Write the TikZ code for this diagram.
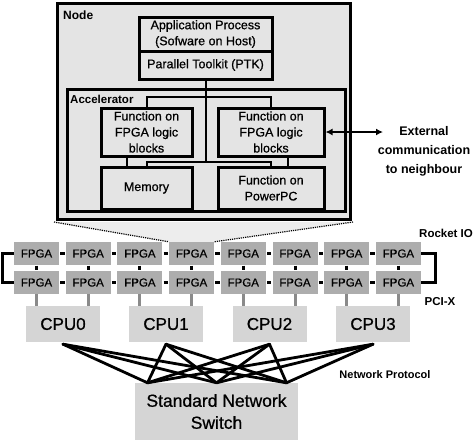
\documentclass[tikz,border=0pt]{standalone}
\usepackage{fontspec}
\setmainfont{Liberation Sans}
\newfontfamily\medfont{Liberation Sans}[FakeBold=0.7]
\usetikzlibrary{arrows.meta,calc}
\pgfdeclarelayer{background}
\pgfsetlayers{background,main}
\definecolor{nodegray}{HTML}{E4E4E4}
\definecolor{fpgagray}{HTML}{ADADAD}
\definecolor{cpugray}{HTML}{D5D5D5}
\definecolor{linkgray}{HTML}{8A8A8A}
\definecolor{funnelgray}{HTML}{EDEDED}
\begin{document}
\begin{tikzpicture}[x=1pt,y=-1pt,
  container/.style={draw=black,line width=3pt,fill=nodegray,inner sep=0pt},
  box/.style={draw=black,line width=3pt,fill=nodegray,inner sep=0pt,align=center,
    font=\medfont\fontsize{12.5}{16}\selectfont},
  fpga/.style={fill=fpgagray,minimum width=45pt,minimum height=23pt,inner sep=0pt,
    font=\medfont\fontsize{11.5}{13}\selectfont},
  cpu/.style={fill=cpugray,minimum width=74pt,minimum height=36pt,inner sep=0pt,
    font=\medfont\fontsize{17}{20}\selectfont},
  lbl/.style={inner sep=0pt,font=\bfseries\fontsize{11.5}{13}\selectfont},
  bus/.style={line width=2pt},
  rlink/.style={line width=3pt,shorten <=1pt,shorten >=1pt},
  glink/.style={line width=3pt,draw=linkgray},
  net/.style={line width=2.8pt,line cap=round},
  ext/.style={line width=2pt,{Latex[length=7pt,width=7pt]}-{Latex[length=7pt,width=7pt]}}
]
\useasboundingbox (0,0) rectangle (474,440);

% Node container
\node[container,minimum width=293pt,minimum height=216pt] (nodebox) at (203.5,111) {};
\node[lbl,anchor=west,font=\bfseries\fontsize{12}{14}\selectfont] (nodelbl) at (63,15) {Node};

% Application process / PTK
\node[box,minimum width=133pt,minimum height=34pt] (app) at (205.5,34)
  {Application Process\\(Sofware on Host)};
\node[box,minimum width=133pt,minimum height=28pt] (ptk) at (205.5,65)
  {Parallel Toolkit (PTK)};

% Accelerator
\node[container,minimum width=278pt,minimum height=122pt] (acc) at (206,150) {};
\node[lbl,anchor=west] (acclbl) at (70,99) {Accelerator};

\node[box,minimum width=91pt,minimum height=48pt] (fl) at (146.5,132)
  {Function on\\FPGA logic\\blocks};
\node[box,minimum width=106pt,minimum height=48pt] (fr) at (271,132)
  {Function on\\FPGA logic\\blocks};
\node[box,minimum width=91pt,minimum height=42pt] (mem) at (146.5,188) {Memory};
\node[box,minimum width=106pt,minimum height=42pt] (ppc) at (271,188)
  {Function on\\PowerPC};

\coordinate (bus1) at (205.5,97);
\coordinate (bus2) at (205.5,162);
\draw[bus] (ptk.south) -- (bus2);
\draw[bus] (fl.north) |- (bus1) -| (fr.north);
\draw[bus] (mem.north) |- (bus2) -| (ppc.north);
\draw[bus] ([xshift=-19.5pt]fl.south) -- ([xshift=-19.5pt]mem.north);
\draw[bus] ([xshift=17pt]fr.south) -- ([xshift=17pt]ppc.north);

% External communication
\node[inner sep=0pt,align=center,font=\bfseries\fontsize{12.5}{19}\selectfont] (extlbl)
  at (424,151) {External\\communication\\to neighbour};
\coordinate (extpt) at (383,132);
\draw[ext] (fr.east) -- (extpt);

% FPGA grid
\foreach \i in {1,...,8} {
  \node[fpga] (t\i) at ({36.5+51.7*(\i-1)},253.5) {FPGA};
  \node[fpga] (b\i) at ({36.5+51.7*(\i-1)},282.5) {FPGA};
  \draw[line width=3pt,shorten <=0.5pt,shorten >=0.5pt] (t\i.south) -- (b\i.north);
}
\foreach \i [count=\j from 2] in {1,...,7} {
  \draw[rlink] (t\i.east) -- (t\j.west);
  \draw[rlink] (b\i.east) -- (b\j.west);
}
\draw[line width=3pt] (t1.west) -- ++(-11,0) |- (b1.west);
\draw[line width=3pt] (t8.east) -- ++(14,0) |- (b8.east);

% Funnel from node to FPGA
\begin{pgfonlayer}{background}
  \fill[funnelgray] ([xshift=-1.5pt,yshift=-1.5pt]nodebox.south west) -- (t4.north west)
    -- (t4.north east) -- ([xshift=1.5pt,yshift=-1.5pt]nodebox.south east) -- cycle;
\end{pgfonlayer}
\draw[densely dotted,line width=1.2pt] ([xshift=-1.5pt,yshift=-1.5pt]nodebox.south west) -- (t4.north west);
\draw[densely dotted,line width=1.2pt] ([xshift=1.5pt,yshift=-1.5pt]nodebox.south east) -- (t4.north east);

\node[lbl,anchor=west] (rio) at (419,233) {Rocket IO};
\node[lbl] (pcix) at (440,302) {PCI-X};

% CPUs
\node[cpu] (cpu0) at (63,324) {CPU0};
\node[cpu] (cpu1) at (166,324) {CPU1};
\node[cpu] (cpu2) at (269.5,324) {CPU2};
\node[cpu] (cpu3) at (373,324) {CPU3};
\draw[glink] (b1.south) -- (b1.south |- cpu0.north);
\draw[glink] (b2.south) -- (b2.south |- cpu0.north);
\draw[glink] (b3.south) -- (b3.south |- cpu1.north);
\draw[glink] (b4.south) -- (b4.south |- cpu1.north);
\draw[glink] (b5.south) -- (b5.south |- cpu2.north);
\draw[glink] (b6.south) -- (b6.south |- cpu2.north);
\draw[glink] (b7.south) -- (b7.south |- cpu3.north);
\draw[glink] (b8.south) -- (b8.south |- cpu3.north);

% Switch
\node[cpu,minimum width=163pt,minimum height=57pt,align=center,
  font=\medfont\fontsize{17.5}{22}\selectfont] (sw) at (216.5,411.5) {Standard Network\\Switch};
\coordinate (p1) at ([xshift=-69pt]sw.north);
\coordinate (p2) at (sw.north);
\coordinate (p3) at ([xshift=70pt]sw.north);
\foreach \c in {cpu0,cpu1,cpu2,cpu3} {
  \foreach \p in {p1,p2,p3} {
    \draw[net] ([yshift=-2pt]\c.south) -- (\p);
  }
}
\node[lbl,font=\bfseries\fontsize{11}{13}\selectfont] (np) at (385,375) {Network Protocol};
\end{tikzpicture}
\end{document}
